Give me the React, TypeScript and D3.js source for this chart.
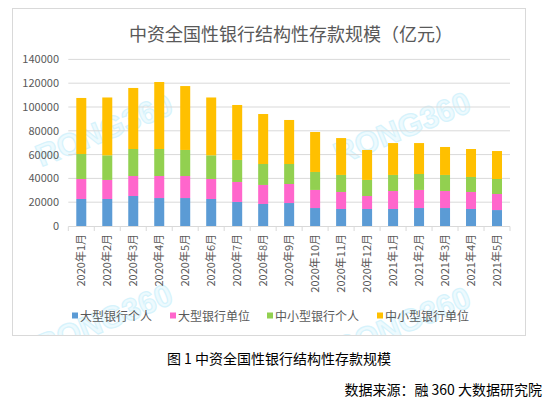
import React, { useEffect, useRef } from 'react';
import * as d3 from 'd3';

const months = [
  '2020年1月', '2020年2月', '2020年3月', '2020年4月', '2020年5月', '2020年6月',
  '2020年7月', '2020年8月', '2020年9月', '2020年10月', '2020年11月', '2020年12月',
  '2021年1月', '2021年2月', '2021年3月', '2021年4月', '2021年5月',
];

// segment values (亿元)
const bigPersonal = [22700, 22700, 25200, 23500, 23500, 22700, 20200, 18500, 19300, 15100, 14300, 14300, 14300, 15100, 15100, 14300, 13400];
const bigCorporate = [16800, 16000, 16800, 18500, 18500, 16800, 16800, 16000, 16000, 15200, 14300, 10900, 15100, 15200, 14300, 14300, 13500];
const smallPersonal = [21000, 20700, 22700, 22700, 21900, 19900, 18500, 17600, 16800, 15100, 14300, 13500, 13500, 13400, 13500, 12600, 12600];
const smallCorporate = [47100, 48600, 51300, 56300, 53700, 48600, 46200, 42000, 37000, 33600, 31000, 25200, 26800, 26000, 23500, 23500, 23500];

const yTickValues = [0, 20000, 40000, 60000, 80000, 100000, 120000, 140000];

const seriesNames = ['大型银行个人', '大型银行单位', '中小型银行个人', '中小型银行单位'];
const seriesColors = ['#5B9BD5', '#FF66CC', '#92D050', '#FFC000'];

const FONT = '"Noto Sans CJK SC", "Noto Sans", sans-serif';

const App = () => {
  const svgRef = useRef(null);

  useEffect(() => {
    document.body.style.margin = '0';
    const svg = d3.select(svgRef.current);
    svg.selectAll('*').remove();

    svg.append('clipPath')
      .attr('id', 'frame-clip')
      .append('rect')
      .attr('x', 13).attr('y', 9)
      .attr('width', 512).attr('height', 326);

    // chart frame
    svg.append('rect')
      .attr('x', 12.5).attr('y', 8.5)
      .attr('width', 513).attr('height', 327)
      .attr('fill', '#fff')
      .attr('stroke', '#D9D9D9');

    // watermarks (behind everything)
    const marks = [[108, 140], [406, 138], [108, 330], [406, 333]];
    const wm = svg.append('g').attr('clip-path', 'url(#frame-clip)');
    marks.forEach(([mx, my]) => {
      wm.append('text')
        .attr('transform', `translate(${mx},${my}) rotate(-22)`)
        .attr('text-anchor', 'middle')
        .attr('font-family', 'Arial, "Liberation Sans", sans-serif')
        .attr('font-size', 31)
        .attr('font-weight', 'bold')
        .attr('fill', '#EDFAFE')
        .attr('stroke', '#D6F3FC')
        .attr('stroke-width', 1.2)
        .text('RONG360');
    });

    svg.append('text')
      .attr('x', 291).attr('y', 41)
      .attr('text-anchor', 'middle')
      .attr('font-family', FONT)
      .attr('font-size', 18)
      .attr('fill', '#595959')
      .text('中资全国性银行结构性存款规模（亿元）');

    const x = d3.scaleBand()
      .domain(months)
      .range([68.3, 510])
      .paddingInner(0.615)
      .paddingOuter(0.3075);

    const y = d3.scaleLinear()
      .domain([0, 140000])
      .range([226, 59.4]);

    // grid
    svg.append('g')
      .selectAll('line')
      .data(yTickValues.filter(d => d > 0))
      .enter()
      .append('line')
      .attr('x1', 68.3).attr('x2', 510)
      .attr('y1', d => y(d)).attr('y2', d => y(d))
      .attr('stroke', '#D9D9D9');

    svg.append('g')
      .selectAll('text')
      .data(yTickValues)
      .enter()
      .append('text')
      .attr('x', 59)
      .attr('y', d => y(d) + 4)
      .attr('text-anchor', 'end')
      .attr('font-family', FONT)
      .attr('font-size', 11)
      .attr('fill', '#595959')
      .text(d => d);

    // stacked bars
    const rows = months.map((m, i) => ({
      month: m,
      s0: bigPersonal[i],
      s1: bigCorporate[i],
      s2: smallPersonal[i],
      s3: smallCorporate[i],
    }));
    const stacked = d3.stack().keys(['s0', 's1', 's2', 's3'])(rows as any);

    svg.append('g')
      .selectAll('g')
      .data(stacked)
      .enter()
      .append('g')
      .attr('fill', (d, i) => seriesColors[i])
      .selectAll('rect')
      .data(d => d)
      .enter()
      .append('rect')
      .attr('x', (d: any) => x(d.data.month))
      .attr('width', x.bandwidth())
      .attr('y', d => y(d[1]))
      .attr('height', d => y(d[0]) - y(d[1]));

    // x axis
    svg.append('line')
      .attr('x1', 68.3).attr('x2', 510)
      .attr('y1', 226.5).attr('y2', 226.5)
      .attr('stroke', '#D9D9D9');
    const step = x.step();
    svg.append('g')
      .selectAll('line')
      .data(d3.range(months.length + 1))
      .enter()
      .append('line')
      .attr('x1', i => 68.3 + i * step).attr('x2', i => 68.3 + i * step)
      .attr('y1', 226.5).attr('y2', 231)
      .attr('stroke', '#D9D9D9');

    svg.append('g')
      .selectAll('text')
      .data(months)
      .enter()
      .append('text')
      .attr('transform', d => `translate(${x(d) + x.bandwidth() / 2 + 4},234) rotate(-90)`)
      .attr('text-anchor', 'end')
      .attr('font-family', FONT)
      .attr('font-size', 11)
      .attr('fill', '#595959')
      .text(d => d);

    // legend
    const legendX = [72, 170, 267, 377];
    const legend = svg.append('g')
      .selectAll('g')
      .data(seriesNames)
      .enter()
      .append('g')
      .attr('transform', (d, i) => `translate(${legendX[i]},316)`);
    legend.append('rect')
      .attr('x', 0).attr('y', -3.5)
      .attr('width', 6).attr('height', 6)
      .attr('fill', (d, i) => seriesColors[i]);
    legend.append('text')
      .attr('x', 8).attr('y', 4.5)
      .attr('font-family', FONT)
      .attr('font-size', 12)
      .attr('fill', '#595959')
      .text(d => d);

    svg.append('text')
      .attr('x', 279).attr('y', 364)
      .attr('text-anchor', 'middle')
      .attr('font-family', FONT)
      .attr('font-size', 14)
      .attr('fill', '#000')
      .text('图 1  中资全国性银行结构性存款规模');

    svg.append('text')
      .attr('x', 542).attr('y', 395)
      .attr('text-anchor', 'end')
      .attr('font-family', FONT)
      .attr('font-size', 14)
      .attr('fill', '#000')
      .text('数据来源：融 360 大数据研究院');
  }, []);

  return (
    <svg ref={svgRef} width={550} height={398} style={{ display: 'block', background: '#fff' }}></svg>
  );
};

export default App;
